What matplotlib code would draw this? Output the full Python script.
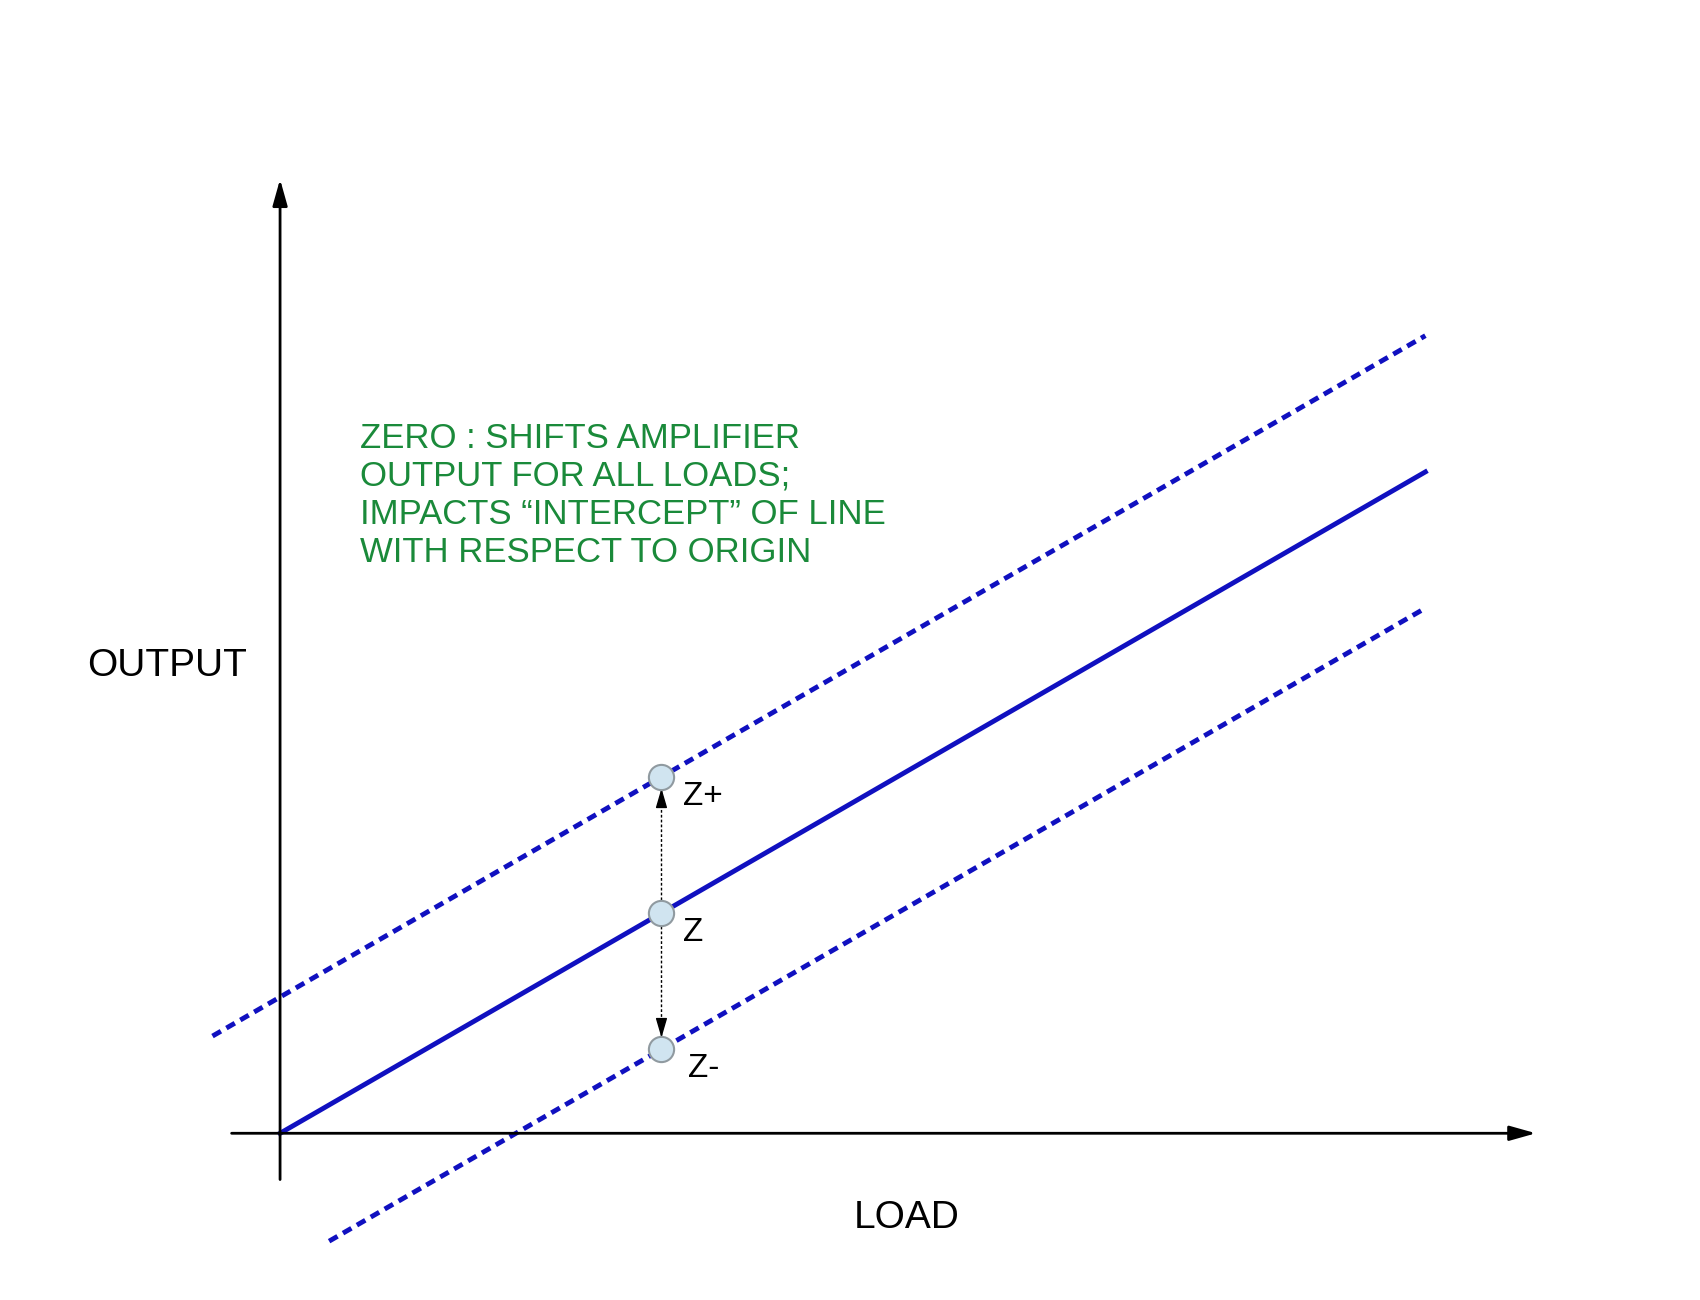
import matplotlib
matplotlib.use("Agg")
import matplotlib.pyplot as plt
import numpy as np

# data (arbitrary units)
slope = 0.5775
zero_shift = 12.5
solid_x = [0, 105.1]
upper_x = [-6.2, 105.1]
lower_x = [4.5, 105.1]
z_load = 35.0
z_labels = ["Z+", "Z", "Z-"]
z_offsets = [zero_shift, 0, -zero_shift]

blue = "#1010c0"
green = "#1a8a3a"
font = "Liberation Sans"

fig = plt.figure(figsize=(17, 13), dpi=100)
ax = fig.add_axes([0, 0, 1, 1])
ax.set_xlim(-25.7, 130.3)
ax.set_ylim(-15.3, 104.0)
ax.axis("off")

# axes arrows
ax.annotate("", xy=(115.5, 0), xytext=(-4.7, 0),
            arrowprops=dict(arrowstyle="-|>,head_length=1.6,head_width=0.45", color="black", lw=2))
ax.annotate("", xy=(0, 87.8), xytext=(0, -4.5),
            arrowprops=dict(arrowstyle="-|>,head_length=1.6,head_width=0.45", color="black", lw=2))

sx = np.array(solid_x); ux = np.array(upper_x); lx = np.array(lower_x)
ax.plot(sx, slope * sx, color=blue, lw=3.5)
ax.plot(ux, slope * ux + zero_shift, color=blue, lw=3.5, ls=(0, (2, 1.3)))
ax.plot(lx, slope * lx - zero_shift, color=blue, lw=3.5, ls=(0, (2, 1.3)))

zy = [slope * z_load + o for o in z_offsets]
ax.plot([z_load, z_load], [zy[0] - 1.2, zy[2] + 1.2], color="black", lw=1, ls=(0, (2, 1.5)))
ax.annotate("", xy=(z_load, zy[0] - 0.8), xytext=(z_load, zy[0] - 3.0),
            arrowprops=dict(arrowstyle="-|>,head_length=1.2,head_width=0.35", color="black", lw=1))
ax.annotate("", xy=(z_load, zy[2] + 0.8), xytext=(z_load, zy[2] + 3.0),
            arrowprops=dict(arrowstyle="-|>,head_length=1.2,head_width=0.35", color="black", lw=1))
ax.scatter([z_load] * 3, zy, s=330, color="#d0e4f0", edgecolors="#909aa0", linewidths=1.5, zorder=5)
label_dx = [2.0, 2.0, 2.4]
label_dy = [-1.8, -1.8, -1.8]
for lab, y, dx, dy in zip(z_labels, zy, label_dx, label_dy):
    ax.text(z_load + dx, y + dy, lab, fontsize=24, family=font, va="center", ha="left")

ax.text(7.3, 65.3, "ZERO : SHIFTS AMPLIFIER\nOUTPUT FOR ALL LOADS;\nIMPACTS \u201cINTERCEPT\u201d OF LINE\nWITH RESPECT TO ORIGIN",
        fontsize=25, family=font, color=green, va="top", ha="left", linespacing=1.2)
ax.text(-17.7, 42.9, "OUTPUT", fontsize=28, family=font, va="center", ha="left")
ax.text(52.6, -7.8, "LOAD", fontsize=28, family=font, va="center", ha="left")

fig.savefig("out.png", dpi=100, facecolor="white")
